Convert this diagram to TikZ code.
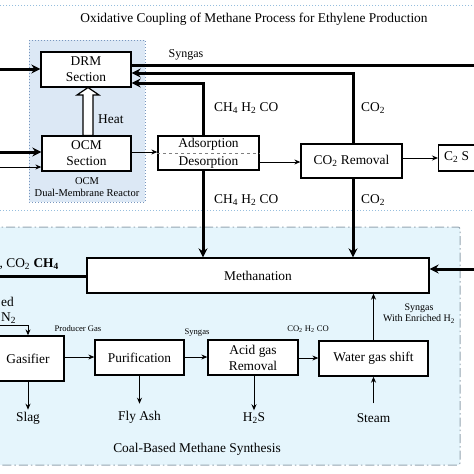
\documentclass[tikz,border=0pt]{standalone}
\usepackage{fontspec}
\setmainfont{Liberation Serif}
\usetikzlibrary{arrows.meta,calc}
\definecolor{reactfill}{RGB}{220,232,245}
\definecolor{reactedge}{RGB}{120,150,190}
\definecolor{secedge}{RGB}{150,190,222}
\definecolor{lowfill}{RGB}{229,245,252}
\definecolor{lowedge}{RGB}{150,166,178}
\tikzset{
  F13/.style={font=\fontsize{13.4}{16}\selectfont},
  F12/.style={font=\fontsize{12}{14}\selectfont},
  F10/.style={font=\fontsize{10.5}{12}\selectfont},
  F8/.style={font=\fontsize{8.6}{10}\selectfont},
  F10b/.style={font=\fontsize{10}{11.5}\selectfont},
  procbox/.style={draw, line width=1.3pt, fill=white, F13, align=center, inner sep=0pt},
  thk/.style={line width=3pt},
  thkarr/.style={line width=3pt, -{Stealth[length=9pt,width=9pt]}},
  thn/.style={line width=1pt},
  thnarr/.style={line width=1pt, -{Stealth[length=6pt,width=5pt]}},
  lbl/.style={F13, inner sep=2pt},
}
\begin{document}
\begin{tikzpicture}[x=1pt,y=-1pt]
\useasboundingbox (0,0) rectangle (474,474);
\clip (0,0) rectangle (474,474);
% sections
\draw[secedge, dotted, line width=1pt] (-5,5) rectangle (480,210);
\draw[reactedge, dotted, line width=1pt, fill=reactfill] (29,40) rectangle (145,202);
\draw[lowedge, line width=1pt, fill=lowfill, dash pattern=on 9pt off 3pt on 1.5pt off 3pt, rounded corners=2pt] (-10,227) rectangle (460,465);
% titles
\node[F13] (title) at (254,19) {Oxidative Coupling of Methane Process for Ethylene Production};
\node[F13] (title2) at (197,449) {Coal-Based Methane Synthesis};
% boxes
\node[procbox, minimum width=90pt, minimum height=35pt] (DRM) at (86,69.5) {DRM\\Section};
\node[procbox, minimum width=89pt, minimum height=35pt] (OCM) at (86.5,153.5) {OCM\\Section};
\node[procbox, minimum width=101pt, minimum height=34pt] (Ads) at (208.5,153) {};
\node[procbox, minimum width=101pt, minimum height=34pt] (CO2R) at (351.5,161) {CO\textsubscript{2} Removal};
\node[procbox, minimum width=62pt, minimum height=26pt, anchor=west] (C2) at (438,158) {};
\node[F13, anchor=west, inner sep=0pt] (C2t) at (444,157) {C\textsubscript{2} S};
\node[procbox, minimum width=342pt, minimum height=35pt] (Meth) at (258,275.5) {Methanation};
\node[procbox, minimum width=72pt, minimum height=45pt] (Gas) at (28,358.5) {Gasifier};
\node[procbox, minimum width=89pt, minimum height=35pt] (Pur) at (139.5,357.5) {Purification};
\node[procbox, minimum width=90pt, minimum height=35pt] (Acid) at (253,357.5) {Acid gas\\Removal};
\node[procbox, minimum width=109pt, minimum height=35pt] (WGS) at (373.5,358.5) {Water gas shift};
% adsorption box content
\draw[gray, dashed, line width=1pt] (Ads.west |- 0,153) -- (Ads.east |- 0,153);
\node[F13] (adst) at (208.5,144) {Adsorption};
\node[F13] (dest) at (208.5,162) {Desorption};
% OCM labels
\node[F10, align=center] (ocml) at (87,187) {OCM\\Dual-Membrane Reactor};
% Heat arrow
\draw[line width=1.2pt, fill=white] (OCM.north -| 83,0) -- (83,95) -- (77,95) -- (88,87.5) -- (99,95) -- (93,95) -- (OCM.north -| 93,0) -- cycle;
\node[lbl, anchor=west] (heat) at (96,119) {Heat};
% inputs left
\coordinate (inD) at (-2,69);
\draw[thkarr] (inD) -- (inD -| DRM.west);
\coordinate (inO1) at (-2,152);
\draw[thkarr] (inO1) -- (inO1 -| OCM.west);
\coordinate (inO2) at (-2,167);
\draw[thnarr] (inO2) -- (inO2 -| OCM.west);
% syngas out
\coordinate (sgR) at (480,65);
\draw[thk] (sgR -| DRM.east) -- (sgR);
\node[F12] (sgl) at (186,55) {Syngas};
% CO2 return
\coordinate (c2top) at (353,73);
\draw[thkarr] (c2top |- CO2R.north) -- (c2top) -- (c2top -| DRM.east);
\coordinate (chtop) at (203,83);
\draw[thkarr] (chtop |- Ads.north) -- (chtop) -- (chtop -| DRM.east);
\draw[thkarr] (chtop |- Ads.south) -- (chtop |- Meth.north);
\draw[thkarr] (c2top |- CO2R.south) -- (c2top |- Meth.north);
\node[lbl, anchor=west] (l1) at (212,108) {CH\textsubscript{4} H\textsubscript{2} CO};
\node[lbl, anchor=west] (l2) at (359,108) {CO\textsubscript{2}};
\node[lbl, anchor=west] (l3) at (212,200) {CH\textsubscript{4} H\textsubscript{2} CO};
\node[lbl, anchor=west] (l4) at (359,200) {CO\textsubscript{2}};
% chain upper
\coordinate (oa) at (0,152);
\draw[thnarr] (oa -| OCM.east) -- (oa -| Ads.west);
\coordinate (ac) at (0,162);
\draw[thnarr] (ac -| Ads.east) -- (ac -| CO2R.west);
\coordinate (cc) at (0,158);
\draw[thnarr] (cc -| CO2R.east) -- (cc -| C2.west);
% methanation inputs
\coordinate (mL) at (-2,276);
\draw[thk] (mL) -- (mL -| Meth.west);
\node[F13, anchor=east, inner sep=0pt] (mLt) at (59,264) {, CO\textsubscript{2} \textbf{CH\textsubscript{4}}};
\coordinate (mR) at (480,269);
\draw[thkarr] (mR) -- (mR -| Meth.east);
% gasifier input
\node[F13, anchor=west, inner sep=0pt] (enr) at (1,302) {ed};
\node[F13, anchor=west, inner sep=0pt] (nn) at (1,318) {N\textsubscript{2}};
\coordinate (gi) at (-2,325);
\draw[thnarr] (gi) -- (gi -| Gas.north) -- (Gas.north);
% chain lower
\coordinate (g1) at (0,357);
\draw[thnarr] (g1 -| Gas.east) -- (g1 -| Pur.west);
\draw[thnarr] (g1 -| Pur.east) -- (g1 -| Acid.west);
\coordinate (g2) at (0,358);
\draw[thnarr] (g2 -| Acid.east) -- (g2 -| WGS.west);
\node[F8] (pg) at (78,329) {Producer Gas};
\node[F8] (sg2) at (197,333) {Syngas};
\node[F8] (chg) at (308,329) {CO\textsubscript{2} H\textsubscript{2} CO};
\draw[thnarr] (WGS.north) -- (WGS.north |- Meth.south);
\node[F10b, align=center] (enh) at (419,313.5) {Syngas\\With Enriched H\textsubscript{2}};
% outputs
\node[lbl] (slag) at (28,418) {Slag};
\node[lbl] (fly) at (139.5,417) {Fly Ash};
\node[lbl] (hs) at (254,418) {H\textsubscript{2}S};
\node[lbl] (steam) at (373.5,418) {Steam};
\draw[thnarr] (Gas.south) -- (slag.north);
\draw[thnarr, shorten >=5pt] (Pur.south) -- (fly.north);
\draw[thnarr] (Acid.south -| hs.north) -- (hs.north);
\draw[thnarr, shorten <=8pt] (steam.north) -- (WGS.south);
\end{tikzpicture}
\end{document}
